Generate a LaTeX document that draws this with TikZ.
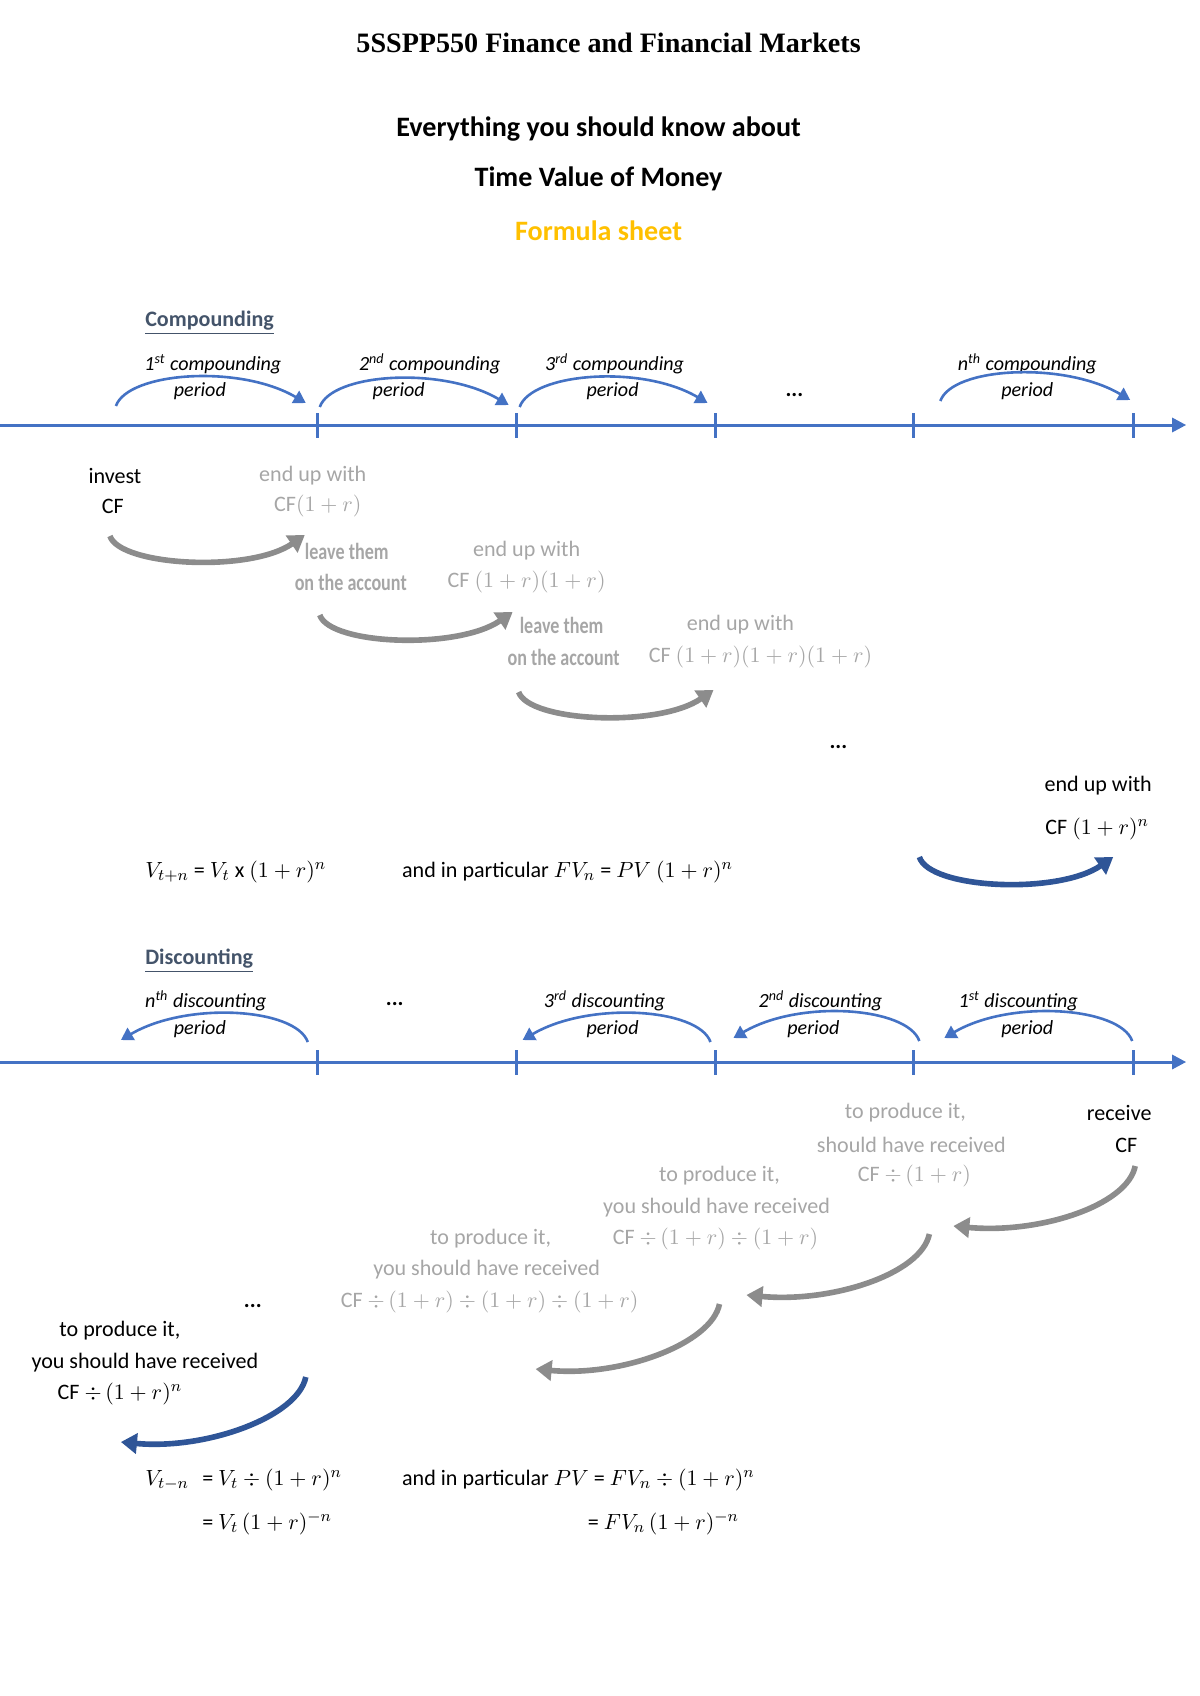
\documentclass[tikz,border=0pt]{standalone}
\usepackage{fontspec}
\setmainfont{Carlito}
\newfontfamily\timesfont{Liberation Serif}
\usetikzlibrary{arrows.meta}
\definecolor{axblue}{HTML}{4472C4}
\definecolor{darkblue}{HTML}{2F5597}
\definecolor{headblue}{HTML}{44546A}
\definecolor{gold}{HTML}{FFC000}
\definecolor{lgrey}{HTML}{A6A6A6}
\definecolor{agrey}{HTML}{8C8C8C}
\tikzset{
  txt/.style={inner sep=0pt, font=\fontsize{11}{13}\selectfont},
  gtxt/.style={txt, text=lgrey},
  ital/.style={inner sep=0pt, font=\fontsize{10}{12}\selectfont\itshape},
  cond/.style={txt, text=lgrey, font=\fontsize{11}{13}\selectfont\bfseries},
  head/.style={inner sep=0pt, anchor=west, text=headblue, font=\fontsize{11}{13}\selectfont\bfseries},
  big/.style={inner sep=0pt, font=\fontsize{14}{17}\selectfont\bfseries},
  axis/.style={draw=axblue, line width=1.5pt},
  axisarrow/.style={axis, -{Triangle[length=7pt,width=7pt]}},
  tickmark/.style={draw=axblue, line width=1.5pt},
  perarc/.style={draw=axblue, line width=1.3pt, -{Triangle[length=6pt,width=7pt]}},
  greyarc/.style={draw=agrey, line width=2.8pt, -{Triangle[length=8pt,width=10pt]}},
  bluearc/.style={draw=darkblue, line width=2.8pt, -{Triangle[length=8pt,width=10pt]}},
}
\newcommand{\cnd}[1]{\scalebox{0.82}[1.05]{#1}}
\begin{document}
\begin{tikzpicture}[x=0.175mm, y=-0.17512mm]
\useasboundingbox (0,0) rectangle (1200,1696);

% ---------- titles ----------
\node[inner sep=0pt, font=\timesfont\bfseries\fontsize{14}{16}\selectfont] (title) at (609,43) {5SSPP550 Finance and Financial Markets};
\node[big] (every) at (599,129) {Everything you should know about};
\node[big] (tvm) at (599,179) {Time Value of Money};
\node[big, text=gold] (fsheet) at (599,231) {Formula sheet};

% ---------- compounding ----------
\node[head] (comph) at (145,323) {\underline{Compounding}};

\coordinate (caL) at (0,425);
\coordinate (caR) at (1187,425);
\draw[axisarrow] (caL) -- (caR);
\foreach \x [count=\i] in {318,517,716,914,1134} {
  \coordinate (ct\i a) at (\x,413);
  \coordinate (ct\i b) at (\x,438);
  \draw[tickmark] (ct\i a) -- (ct\i b);
}

\node[ital] (cp1) at (213,364) {1\textsuperscript{st} compounding};
\node[ital] (cp1b) at (200,391) {period};
\node[ital] (cp2) at (430,364) {2\textsuperscript{nd} compounding};
\node[ital] (cp2b) at (399,391) {period};
\node[ital] (cp3) at (615,364) {3\textsuperscript{rd} compounding};
\node[ital] (cp3b) at (613,391) {period};
\node[txt, font=\fontsize{11}{13}\selectfont\bfseries] (cdots) at (795,395) {...};
\node[ital] (cpn) at (1028,364) {\textit{n}\textsuperscript{th} compounding};
\node[ital] (cpnb) at (1028,391) {period};

\coordinate (pa1s) at (116,406); \coordinate (pa1e) at (306,403);
\coordinate (pa2s) at (320,407); \coordinate (pa2e) at (509,405);
\coordinate (pa3s) at (520,407); \coordinate (pa3e) at (708,403);
\coordinate (pans) at (941,401); \coordinate (pane) at (1131,400);
\foreach \a in {1,2,3,n} {
  \draw[perarc] (pa\a s) .. controls +(12,-34) and +(-66,-39) .. (pa\a e);
}

\node[txt] (invest) at (115,476) {invest};
\node[txt] (cf0) at (113,506) {CF};
\node[gtxt] (eu1) at (313,476) {end up with};
\node[gtxt] (cf1) at (318,506) {CF$(1+r)$};
\node[cond] (lt1) at (347,551) {\cnd{leave them}};
\node[cond] (ota1) at (351,582) {\cnd{on the account}};
\node[gtxt] (eu2) at (527,551) {end up with};
\node[gtxt] (cf2) at (527,582) {CF $(1+r)(1+r)$};
\node[cond] (lt2) at (562,625) {\cnd{leave them}};
\node[cond] (ota2) at (564,657) {\cnd{on the account}};
\node[gtxt] (eu3) at (741,625) {end up with};
\node[gtxt] (cf3) at (761,657) {CF $(1+r)(1+r)(1+r)$};
\node[txt, font=\fontsize{11}{13}\selectfont\bfseries] (cdots2) at (839,747) {...};
\node[txt] (eun) at (1099,786) {end up with};
\node[txt] (cfn) at (1098,829) {CF $(1+r)^n$};

\coordinate (ga1s) at (110,536); \coordinate (ga1e) at (305,535);
\coordinate (ga2s) at (320,615); \coordinate (ga2e) at (513,612);
\coordinate (ga3s) at (519,692); \coordinate (ga3e) at (714,690);
\foreach \a in {1,2,3} {
  \draw[greyarc] (ga\a s) .. controls +(10,30) and +(-55,38) .. (ga\a e);
}
\coordinate (gbs) at (920,857); \coordinate (gbe) at (1114,857);
\draw[bluearc] (gbs) .. controls +(10,32) and +(-55,38) .. (gbe);

\node[txt, anchor=west] (fc1) at (145,872) {$V_{t+n}$ = $V_t$ x $(1+r)^n$};
\node[txt, anchor=west] (fc2) at (402,872) {and in particular $FV_n$ = $PV$ $(1+r)^n$};

% ---------- discounting ----------
\node[head] (disch) at (145,961) {\underline{Discounting}};

\coordinate (daL) at (0,1062);
\coordinate (daR) at (1187,1062);
\draw[axisarrow] (daL) -- (daR);
\foreach \x [count=\i] in {318,517,716,914,1134} {
  \coordinate (dt\i a) at (\x,1050);
  \coordinate (dt\i b) at (\x,1075);
  \draw[tickmark] (dt\i a) -- (dt\i b);
}

\node[ital] (dpn) at (206,1001) {\textit{n}\textsuperscript{th} discounting};
\node[ital] (dpnb) at (200,1029) {period};
\node[txt, font=\fontsize{11}{13}\selectfont\bfseries] (ddots) at (395,1004) {...};
\node[ital] (dp3) at (605,1001) {3\textsuperscript{rd} discounting};
\node[ital] (dp3b) at (613,1029) {period};
\node[ital] (dp2) at (821,1001) {2\textsuperscript{nd} discounting};
\node[ital] (dp2b) at (814,1029) {period};
\node[ital] (dp1) at (1019,1001) {1\textsuperscript{st} discounting};
\node[ital] (dp1b) at (1028,1029) {period};

\coordinate (da1s) at (1133,1041); \coordinate (da1e) at (945,1038);
\coordinate (da2s) at (920,1041); \coordinate (da2e) at (734,1038);
\coordinate (da3s) at (711,1042); \coordinate (da3e) at (523,1040);
\coordinate (dans) at (308,1042); \coordinate (dane) at (121,1040);
\foreach \a in {1,2,3,n} {
  \draw[perarc] (da\a s) .. controls +(-12,-34) and +(66,-39) .. (da\a e);
}

\node[txt] (recv) at (1120,1113) {receive};
\node[txt] (cfr) at (1127,1145) {CF};
\node[gtxt] (tp1) at (906,1113) {to produce it,};
\node[gtxt] (shr1) at (912,1145) {should have received};
\node[gtxt] (cfd1) at (915,1176) {CF $\div\,(1+r)$};
\node[gtxt] (tp2) at (720,1176) {to produce it,};
\node[gtxt] (shr2) at (717,1208) {you should have received};
\node[gtxt] (cfd2) at (716,1239) {CF $\div\,(1+r)\div(1+r)$};
\node[gtxt] (tp3) at (491,1239) {to produce it,};
\node[gtxt] (shr3) at (487,1270) {you should have received};
\node[gtxt] (cfd3) at (490,1302) {CF $\div\,(1+r)\div(1+r)\div(1+r)$};
\node[txt, font=\fontsize{11}{13}\selectfont\bfseries] (ddots2) at (253,1306) {...};
\node[txt] (tpn) at (120,1331) {to produce it,};
\node[txt] (shrn) at (145,1363) {you should have received};
\node[txt] (cfdn) at (120,1394) {CF $\div\,(1+r)^n$};

\coordinate (dgAs) at (1136,1166); \coordinate (dgAe) at (954,1226);
\coordinate (dgBs) at (930,1234);  \coordinate (dgBe) at (747,1295);
\coordinate (dgCs) at (720,1304);  \coordinate (dgCe) at (536,1369);
\foreach \a in {A,B,C} {
  \draw[greyarc] (dg\a s) .. controls +(-8,40) and +(85,8) .. (dg\a e);
}
\coordinate (dgDs) at (306,1377);  \coordinate (dgDe) at (121,1442);
\draw[bluearc] (dgDs) .. controls +(-8,40) and +(85,8) .. (dgDe);

\node[txt, anchor=west] (vtn) at (145,1480) {$V_{t-n}$};
\node[txt, anchor=west] (eqa) at (202,1480) {= $V_t \div (1+r)^n$};
\node[txt, anchor=west] (eqb) at (202,1523) {= $V_t\,(1+r)^{-n}$};
\node[txt, anchor=west] (pv1) at (402,1480) {and in particular $PV$ = $FV_n \div (1+r)^n$};
\node[txt, anchor=west] (pv2) at (588,1523) {= $FV_n\,(1+r)^{-n}$};
\end{tikzpicture}
\end{document}
